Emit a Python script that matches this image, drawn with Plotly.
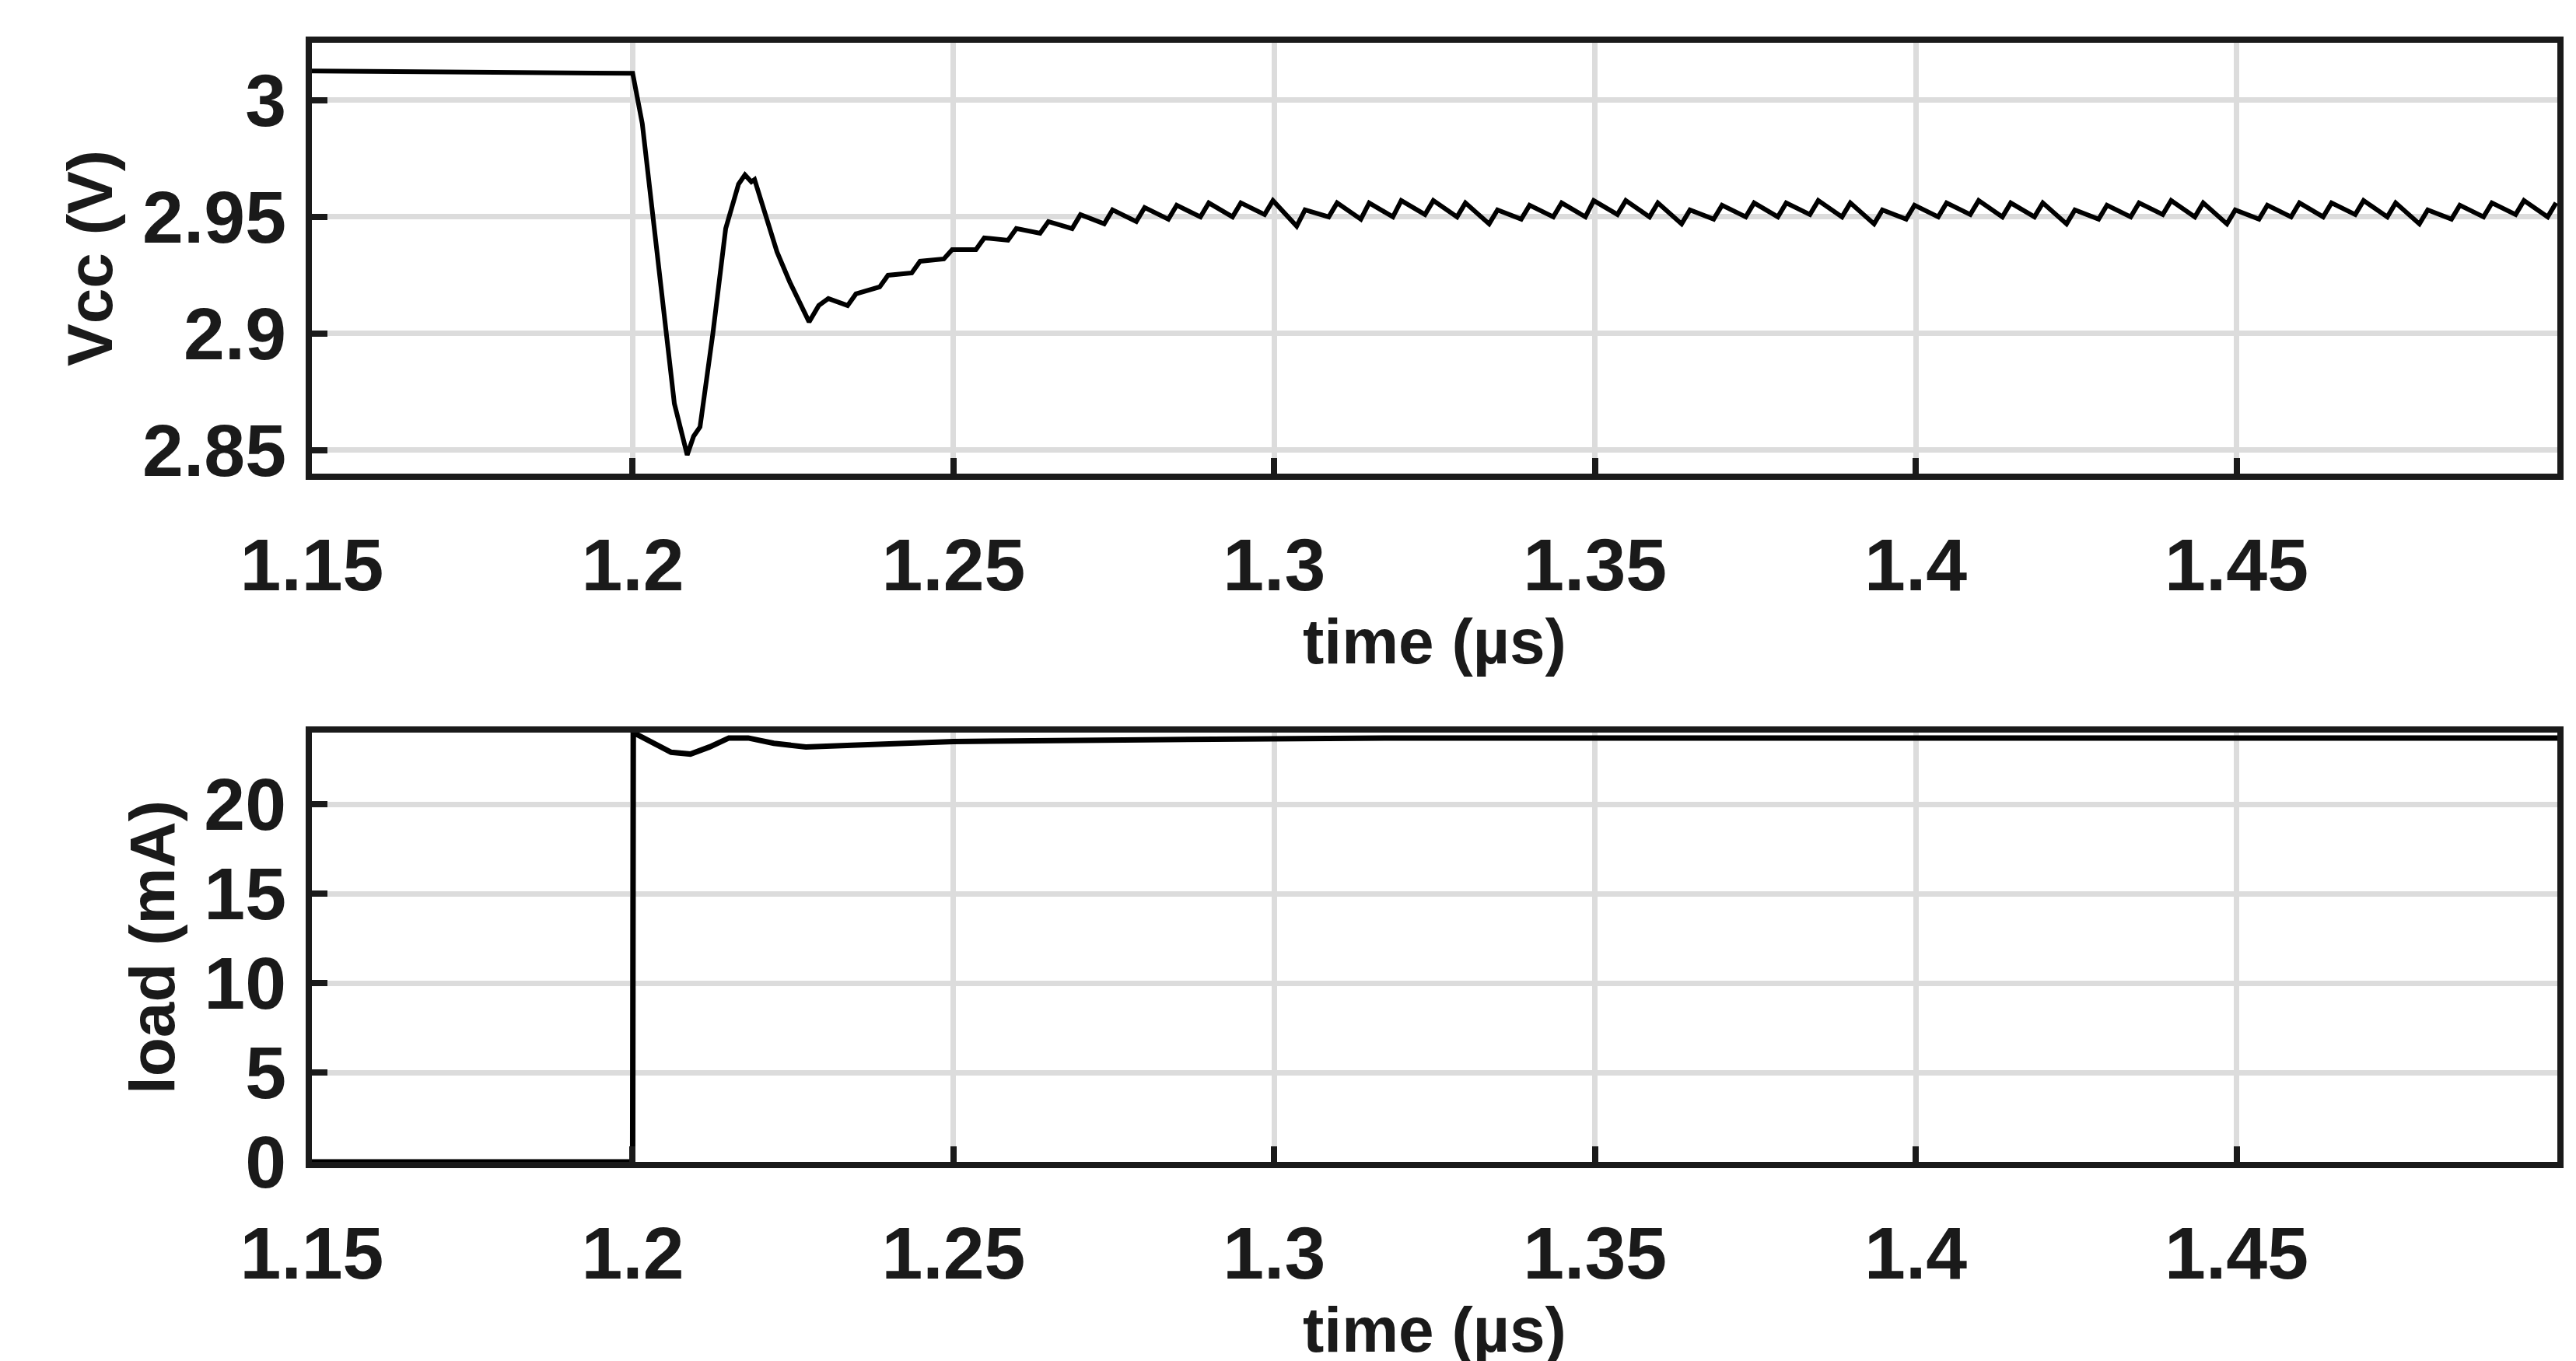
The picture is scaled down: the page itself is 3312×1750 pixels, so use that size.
import numpy as np
import plotly.graph_objects as go
from plotly.subplots import make_subplots

# --- Vcc transient ---
pre_t = [1.15, 1.165, 1.18, 1.2]
pre_v = [3.0125, 3.0122, 3.0118, 3.0115]
tr_t = [1.2015, 1.204, 1.2065, 1.2085, 1.2095, 1.2105, 1.2125, 1.2145, 1.2165, 1.2175,
        1.2185, 1.219, 1.2205, 1.2225, 1.2245, 1.2265, 1.2275, 1.229, 1.2305]
tr_v = [2.99, 2.93, 2.87, 2.848, 2.856, 2.86, 2.90, 2.945, 2.964, 2.968,
        2.965, 2.966, 2.952, 2.935, 2.922, 2.910, 2.905, 2.912, 2.915]
ripple_troughs = [2.912, 2.920, 2.926, 2.932, 2.936, 2.940, 2.943, 2.945, 2.947, 2.948,
                  2.949, 2.950, 2.950, 2.951, 2.946, 2.950, 2.949, 2.950, 2.951, 2.950,
                  2.947, 2.949, 2.950, 2.950, 2.951, 2.950, 2.947, 2.949, 2.950, 2.950,
                  2.951, 2.950, 2.947, 2.949, 2.950, 2.951, 2.950, 2.950, 2.947, 2.949,
                  2.950, 2.951, 2.950, 2.947, 2.949, 2.950, 2.950, 2.951, 2.950, 2.947,
                  2.949, 2.950, 2.951, 2.950]
ripple_peaks = [2.917, 2.925, 2.931, 2.936, 2.941, 2.945, 2.948, 2.951, 2.953, 2.954,
                2.955, 2.956, 2.956, 2.957, 2.953, 2.956, 2.956, 2.957, 2.957, 2.956,
                2.953, 2.955, 2.956, 2.957, 2.957, 2.956, 2.953, 2.955, 2.956, 2.956,
                2.957, 2.956, 2.953, 2.955, 2.956, 2.957, 2.956, 2.956, 2.953, 2.955,
                2.956, 2.957, 2.956, 2.953, 2.955, 2.956, 2.956, 2.957, 2.956, 2.953,
                2.955, 2.956, 2.957, 2.956]
ripple_start = 1.2335
ripple_period = 0.005
ripple_rise = 0.0013

# --- load current ---
load_t = [1.15, 1.2, 1.2001, 1.203, 1.206, 1.209, 1.212, 1.215, 1.218, 1.222, 1.227,
          1.235, 1.25, 1.28, 1.32, 1.4, 1.5]
load_v = [0, 0, 24.0, 23.5, 22.9, 22.8, 23.2, 23.7, 23.7, 23.4, 23.2,
          23.3, 23.5, 23.6, 23.7, 23.7, 23.7]

xticks = [1.15, 1.2, 1.25, 1.3, 1.35, 1.4, 1.45]
vticks = [2.85, 2.9, 2.95, 3]
lticks = [0, 5, 10, 15, 20]

vt, vv = list(pre_t) + list(tr_t), list(pre_v) + list(tr_v)
for k, (tro, pk) in enumerate(zip(ripple_troughs, ripple_peaks)):
    t0 = ripple_start + k * ripple_period
    vt += [t0, t0 + ripple_rise]
    vv += [tro, pk]

fig = make_subplots(rows=2, cols=1)
fig.add_trace(go.Scatter(x=vt, y=vv, mode="lines", line=dict(color="black", width=6)), 1, 1)
fig.add_trace(go.Scatter(x=load_t, y=load_v, mode="lines", line=dict(color="black", width=7)), 2, 1)

font = dict(family="Liberation Sans, Arial, sans-serif", color="#1a1a1a", weight="bold")
axcommon = dict(showline=True, mirror=True, linecolor="#1a1a1a", linewidth=8,
                ticks="inside", ticklen=20, tickwidth=8, tickcolor="#1a1a1a",
                showgrid=True, gridcolor="#dcdcdc", gridwidth=7, zeroline=False,
                automargin=False, tickfont=dict(size=95, **font))
xcommon = dict(range=[1.15, 1.5], tickvals=xticks, ticktext=[str(x) for x in xticks],
               ticklabelstandoff=28,
               title=dict(text="time (µs)", font=dict(size=82, **font), standoff=0))
T, B = 47, 1486
H = B - T
fig.update_layout(
    width=3312, height=1750, margin=dict(l=393, r=32, t=T, b=1750 - B),
    plot_bgcolor="white", paper_bgcolor="white", showlegend=False,
    xaxis=dict(domain=[0, 1], **xcommon, **axcommon),
    yaxis=dict(domain=[(B - 601) / H, 1], range=[2.840, 3.0246], tickvals=vticks,
               ticktext=["2.85", "2.9", "2.95", "3"], ticklabelstandoff=6,
               title=dict(text="Vcc (V)", font=dict(size=82, **font), standoff=14), **axcommon),
    xaxis2=dict(domain=[0, 1], **xcommon, **axcommon),
    yaxis2=dict(domain=[0, (B - 934) / H], range=[0, 24.0], tickvals=lticks,
                ticktext=[str(x) for x in lticks], ticklabelstandoff=6,
                title=dict(text="load (mA)", font=dict(size=82, **font), standoff=14), **axcommon),
)
fig.write_html("out.html")
